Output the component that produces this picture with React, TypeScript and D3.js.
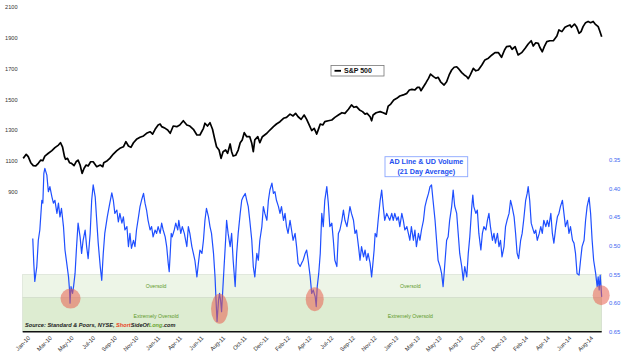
import React from "react";
import * as d3 from "d3";

// trading-day index (0 = 4 Jan 2010) and S&P 500 close
const spx: [number, number][] = [
  [1,1120],[7,1146],[11,1131],[16,1092],[21,1073],[26,1071],[31,1088],[36,1109],[40,1105],[44,1135],
  [51,1153],[58,1170],[64,1189],[71,1206],[75,1221],[79,1195],[83,1131],[85,1114],[89,1120],[93,1092],
  [97,1088],[102,1073],[106,1098],[110,1109],[114,1077],[118,1023],[122,1056],[126,1077],[130,1071],[135,1098],
  [140,1098],[147,1066],[154,1077],[159,1066],[161,1092],[168,1105],[173,1120],[180,1148],[187,1170],[193,1185],
  [200,1195],[205,1228],[210,1200],[215,1191],[220,1221],[226,1243],[233,1256],[240,1265],[246,1282],[253,1292],
  [258,1277],[263,1308],[269,1336],[273,1342],[276,1325],[283,1314],[288,1303],[293,1282],[299,1329],[306,1325],
  [312,1336],[319,1363],[326,1336],[332,1329],[339,1308],[346,1271],[352,1271],[359,1314],[362,1347],[367,1329],
  [372,1350],[377,1308],[381,1250],[385,1195],[390,1174],[394,1120],[398,1163],[403,1174],[407,1153],[412,1213],
  [415,1163],[418,1135],[423,1140],[428,1174],[432,1221],[436,1239],[440,1286],[445,1260],[451,1260],[455,1217],
  [458,1163],[461,1239],[467,1260],[471,1221],[476,1260],[485,1282],[491,1303],[498,1325],[504,1342],[511,1357],
  [518,1379],[524,1385],[531,1406],[537,1394],[542,1411],[547,1389],[553,1372],[559,1400],[564,1372],[569,1336],
  [574,1300],[579,1314],[584,1277],[588,1314],[591,1342],[596,1336],[600,1357],[607,1363],[614,1368],[620,1385],
  [627,1400],[634,1415],[640,1411],[647,1437],[653,1465],[658,1450],[663,1454],[669,1433],[675,1422],[680,1406],
  [684,1411],[690,1389],[693,1363],[696,1400],[702,1415],[710,1422],[716,1415],[722,1406],[726,1458],[731,1471],
  [737,1497],[743,1508],[749,1523],[756,1530],[763,1540],[768,1562],[773,1566],[779,1562],[784,1579],[788,1579],
  [791,1557],[796,1583],[801,1609],[806,1637],[810,1665],[816,1648],[821,1637],[825,1644],[830,1615],[837,1594],
  [842,1615],[847,1659],[852,1691],[857,1709],[862,1712],[865,1702],[872,1674],[877,1659],[882,1648],[885,1635],
  [889,1659],[895,1702],[900,1686],[905,1691],[912,1723],[918,1756],[925,1767],[932,1788],[938,1803],[945,1803],
  [951,1773],[957,1820],[961,1842],[968,1846],[972,1825],[978,1842],[984,1788],[991,1803],[998,1831],[1004,1859],
  [1010,1880],[1014,1846],[1019,1867],[1024,1863],[1027,1838],[1032,1809],[1036,1842],[1041,1874],[1047,1880],[1054,1880],
  [1061,1911],[1065,1950],[1071,1939],[1077,1967],[1082,1975],[1087,1982],[1090,1967],[1096,1988],[1100,1971],[1105,1928],
  [1109,1939],[1113,1971],[1118,1997],[1123,2005],[1128,1997],[1133,2005],[1137,1988],[1143,1971],[1146,1945],[1150,1906],
];

// AD Line & UD Volume, 21 day average (right axis, inverted)
const adud: [number, number][] = [
  [20,0.487],[22,0.530],[24,0.562],[28,0.536],[31,0.490],[34,0.472],[38,0.420],[40,0.425],[42,0.373],[44,0.364],
  [48,0.376],[51,0.405],[54,0.396],[58,0.414],[61,0.425],[64,0.420],[68,0.443],[71,0.425],[74,0.449],[77,0.434],
  [81,0.466],[84,0.507],[87,0.527],[91,0.554],[93,0.577],[94,0.600],[96,0.571],[99,0.583],[101,0.571],[104,0.548],
  [107,0.501],[110,0.460],[114,0.484],[117,0.513],[120,0.490],[124,0.472],[127,0.501],[130,0.522],[134,0.478],[137,0.420],
  [140,0.393],[144,0.414],[147,0.455],[150,0.495],[154,0.536],[157,0.560],[160,0.513],[163,0.478],[168,0.449],[173,0.425],
  [177,0.407],[180,0.420],[183,0.443],[187,0.437],[190,0.458],[193,0.443],[197,0.460],[200,0.449],[203,0.472],[207,0.466],
  [210,0.501],[213,0.478],[216,0.504],[220,0.490],[223,0.501],[226,0.472],[230,0.449],[233,0.431],[236,0.420],[240,0.408],
  [243,0.425],[246,0.437],[249,0.455],[253,0.472],[256,0.466],[259,0.484],[263,0.472],[266,0.478],[269,0.466],[273,0.478],
  [276,0.460],[279,0.472],[283,0.484],[286,0.501],[289,0.530],[291,0.545],[293,0.513],[295,0.478],[297,0.484],[301,0.472],
  [304,0.460],[308,0.472],[310,0.455],[314,0.478],[317,0.466],[321,0.478],[326,0.501],[329,0.466],[332,0.478],[336,0.501],
  [339,0.513],[342,0.525],[346,0.554],[349,0.530],[352,0.507],[356,0.513],[359,0.490],[362,0.455],[365,0.434],[369,0.449],
  [372,0.466],[375,0.478],[379,0.513],[382,0.554],[384,0.595],[386,0.632],[389,0.595],[391,0.583],[393,0.595],[395,0.615],
  [397,0.583],[400,0.536],[403,0.490],[405,0.455],[408,0.478],[412,0.501],[415,0.478],[418,0.525],[422,0.571],[425,0.513],
  [428,0.478],[432,0.443],[435,0.420],[438,0.414],[442,0.408],[445,0.420],[448,0.431],[451,0.455],[455,0.490],[458,0.536],
  [461,0.554],[465,0.513],[468,0.525],[471,0.490],[475,0.466],[478,0.431],[481,0.443],[485,0.455],[488,0.420],[491,0.402],
  [495,0.390],[498,0.408],[501,0.405],[504,0.420],[508,0.431],[511,0.443],[514,0.431],[518,0.455],[521,0.443],[524,0.466],
  [527,0.478],[531,0.455],[534,0.472],[537,0.490],[541,0.478],[544,0.501],[547,0.530],[551,0.536],[554,0.530],[557,0.525],
  [561,0.513],[564,0.507],[567,0.525],[571,0.554],[574,0.583],[577,0.577],[581,0.589],[583,0.606],[585,0.571],[588,0.548],
  [591,0.513],[594,0.443],[597,0.466],[600,0.420],[604,0.396],[607,0.425],[610,0.466],[614,0.460],[617,0.490],[620,0.525],
  [624,0.536],[627,0.478],[630,0.472],[634,0.455],[637,0.437],[640,0.455],[644,0.466],[647,0.449],[650,0.431],[653,0.443],
  [657,0.455],[660,0.478],[663,0.472],[667,0.501],[670,0.525],[673,0.501],[677,0.519],[680,0.507],[683,0.525],[686,0.513],
  [690,0.530],[693,0.554],[695,0.536],[698,0.507],[700,0.478],[703,0.484],[706,0.455],[710,0.420],[713,0.402],[716,0.431],
  [719,0.455],[723,0.443],[726,0.449],[729,0.455],[733,0.443],[736,0.455],[739,0.443],[743,0.455],[746,0.449],[749,0.466],
  [753,0.443],[756,0.455],[759,0.472],[763,0.466],[766,0.478],[769,0.490],[772,0.466],[776,0.490],[779,0.472],[782,0.501],
  [786,0.478],[789,0.490],[792,0.472],[796,0.455],[799,0.431],[802,0.420],[806,0.408],[809,0.396],[812,0.393],[815,0.420],
  [819,0.455],[822,0.490],[825,0.525],[829,0.536],[832,0.548],[835,0.571],[837,0.548],[840,0.513],[842,0.490],[845,0.484],
  [848,0.455],[852,0.431],[855,0.402],[858,0.430],[862,0.443],[865,0.478],[868,0.513],[872,0.536],[875,0.560],[878,0.536],
  [882,0.554],[885,0.513],[888,0.484],[892,0.431],[894,0.411],[896,0.431],[900,0.443],[903,0.437],[906,0.478],[910,0.507],
  [913,0.478],[916,0.466],[920,0.472],[923,0.455],[926,0.443],[929,0.466],[933,0.490],[936,0.478],[939,0.495],[943,0.478],
  [946,0.501],[949,0.490],[952,0.519],[956,0.501],[959,0.466],[962,0.455],[966,0.443],[969,0.420],[972,0.431],[976,0.449],
  [979,0.478],[982,0.513],[985,0.522],[989,0.490],[992,0.478],[995,0.455],[999,0.420],[1002,0.408],[1004,0.396],[1007,0.420],
  [1010,0.460],[1012,0.466],[1016,0.478],[1019,0.472],[1022,0.490],[1026,0.478],[1029,0.466],[1032,0.478],[1035,0.455],[1039,0.466],
  [1042,0.455],[1045,0.466],[1049,0.443],[1052,0.478],[1055,0.495],[1059,0.466],[1062,0.449],[1065,0.443],[1068,0.431],[1072,0.420],
  [1075,0.443],[1078,0.466],[1082,0.455],[1085,0.478],[1088,0.466],[1092,0.490],[1095,0.495],[1098,0.513],[1101,0.548],[1105,0.551],
  [1108,0.525],[1111,0.501],[1115,0.490],[1118,0.455],[1121,0.431],[1125,0.415],[1128,0.443],[1131,0.490],[1134,0.525],[1138,0.548],
  [1141,0.571],[1143,0.554],[1145,0.577],[1147,0.551],[1150,0.589],
];

const xTickLabels = [
  "Jan-10","Mar-10","May-10","Jul-10","Sep-10","Nov-10","Jan-11","Apr-11","Jun-11","Aug-11",
  "Oct-11","Dec-11","Feb-12","Apr-12","Jul-12","Sep-12","Nov-12","Jan-13","Mar-13","May-13",
  "Aug-13","Oct-13","Dec-13","Feb-14","Apr-14","Jun-14","Aug-14",
];
const labelEvery = 43; // trading days between axis labels
const leftTicks = [900, 1100, 1300, 1500, 1700, 1900, 2100];
const rightTicks = [0.35, 0.4, 0.45, 0.5, 0.55, 0.6, 0.65];

// zones (right axis units)
const oversoldFrom = 0.55;
const extremeFrom = 0.59;

// highlighted extremes: [day, value, rx, ry]
const highlights: [number, number, number, number][] = [
  [95, 0.592, 10, 10],
  [391, 0.61, 8.5, 15],
  [580, 0.593, 9, 12],
  [1149, 0.586, 8.5, 10],
];

const W = 625, H = 356;
const L = 22.7, R = 601.7, T = 6.7, B = 331.7;

export default function App() {
  const x = d3.scaleLinear().domain([0, 1150]).range([L, R]);
  const yL = d3.scaleLinear().domain([0, 2100]).range([B, T]);
  const yR = d3.scaleLinear().domain([0.65, 0.35]).range([B, 160.3]);

  const spxLine = d3.line<[number, number]>().x(d => x(d[0])).y(d => yL(d[1]))(spx) || "";
  const adLine = d3.line<[number, number]>().x(d => x(d[0])).y(d => yR(d[1]))(adud) || "";

  const font = "'Liberation Sans', Arial, sans-serif";
  const green = "#5f9a2c";
  const midX1 = x(265), midX2 = x(770);

  return (
    <svg width={W} height={H} style={{ position: "absolute", left: 0, top: 0, background: "#fff" }} fontFamily={font}>
      {/* zones */}
      <rect x={L} y={yR(oversoldFrom)} width={R - L} height={yR(extremeFrom) - yR(oversoldFrom)} fill="#edf5e7" stroke="#d3dccd" strokeWidth={0.6} />
      <rect x={L} y={yR(extremeFrom)} width={R - L} height={B - yR(extremeFrom)} fill="#ddecd1" stroke="#cfd9c8" strokeWidth={0.6} />
      {[midX1, midX2].map((cx, i) => (
        <g key={i} fill={green} fontSize={5.2} textAnchor="middle">
          <text x={cx} y={yR((oversoldFrom + extremeFrom) / 2)} dy="0.35em">Oversold</text>
          <text x={cx} y={yR(0.622)} dy="0.35em">Extremely Oversold</text>
        </g>
      ))}

      {/* S&P 500 */}
      <path d={spxLine} fill="none" stroke="#000" strokeWidth={1.7} strokeLinejoin="round" />
      {/* AD line */}
      <path d={adLine} fill="none" stroke="#1f4fff" strokeWidth={1.2} strokeLinejoin="round" />

      {/* highlights */}
      {highlights.map((h, i) => (
        <ellipse key={i} cx={x(h[0])} cy={yR(h[1])} rx={h[2]} ry={h[3]} fill="rgb(232,96,80)" fillOpacity={0.55} />
      ))}

      {/* source */}
      <text x={25} y={326.5} fontSize={5.6} fontWeight="bold" fontStyle="italic" fill="#222">
        Source: Standard &amp; Poors, NYSE, <tspan fill="#e8401c">Short</tspan>SideOf<tspan fill="#6aa630">Long</tspan>.com
      </text>

      {/* x axis line */}
      <line x1={L} x2={R} y1={B} y2={B} stroke="#111" strokeWidth={1.4} />

      {/* x labels */}
      {xTickLabels.map((t, i) => {
        const px = x(i * labelEvery) + 6.5;
        return (
          <text key={t} transform={`translate(${px},${337}) rotate(-45)`} textAnchor="end" dy="0.35em" fontSize={5.8} fill="#333">{t}</text>
        );
      })}

      {/* left axis labels */}
      {leftTicks.map(v => (
        <text key={v} x={17.5} y={yL(v)} dy="0.35em" textAnchor="end" fontSize={5.6} fill="#333">{v}</text>
      ))}
      {/* right axis labels */}
      {rightTicks.map(v => (
        <text key={v} x={609} y={yR(v)} dy="0.35em" fontSize={5.8} fill="#3a66f0">{v.toFixed(2)}</text>
      ))}

      {/* legend */}
      <rect x={331} y={65.5} width={53} height={10.5} fill="#fff" stroke="#777" strokeWidth={0.8} />
      <line x1={334.5} x2={341} y1={70.8} y2={70.8} stroke="#000" strokeWidth={1.8} />
      <text x={344} y={70.8} dy="0.35em" fontSize={7} fontWeight="bold" fill="#111">S&amp;P 500</text>

      {/* AD label */}
      <rect x={385} y={156.7} width={82.7} height={20} fill="#fff" stroke="#8aa6ff" strokeWidth={0.9} />
      <text x={426.3} y={161.9} dy="0.35em" textAnchor="middle" fontSize={7.2} fontWeight="bold" fill="#2350f0">AD Line &amp; UD Volume</text>
      <text x={426.3} y={171.7} dy="0.35em" textAnchor="middle" fontSize={7.2} fontWeight="bold" fill="#2350f0">(21 Day Average)</text>
    </svg>
  );
}
